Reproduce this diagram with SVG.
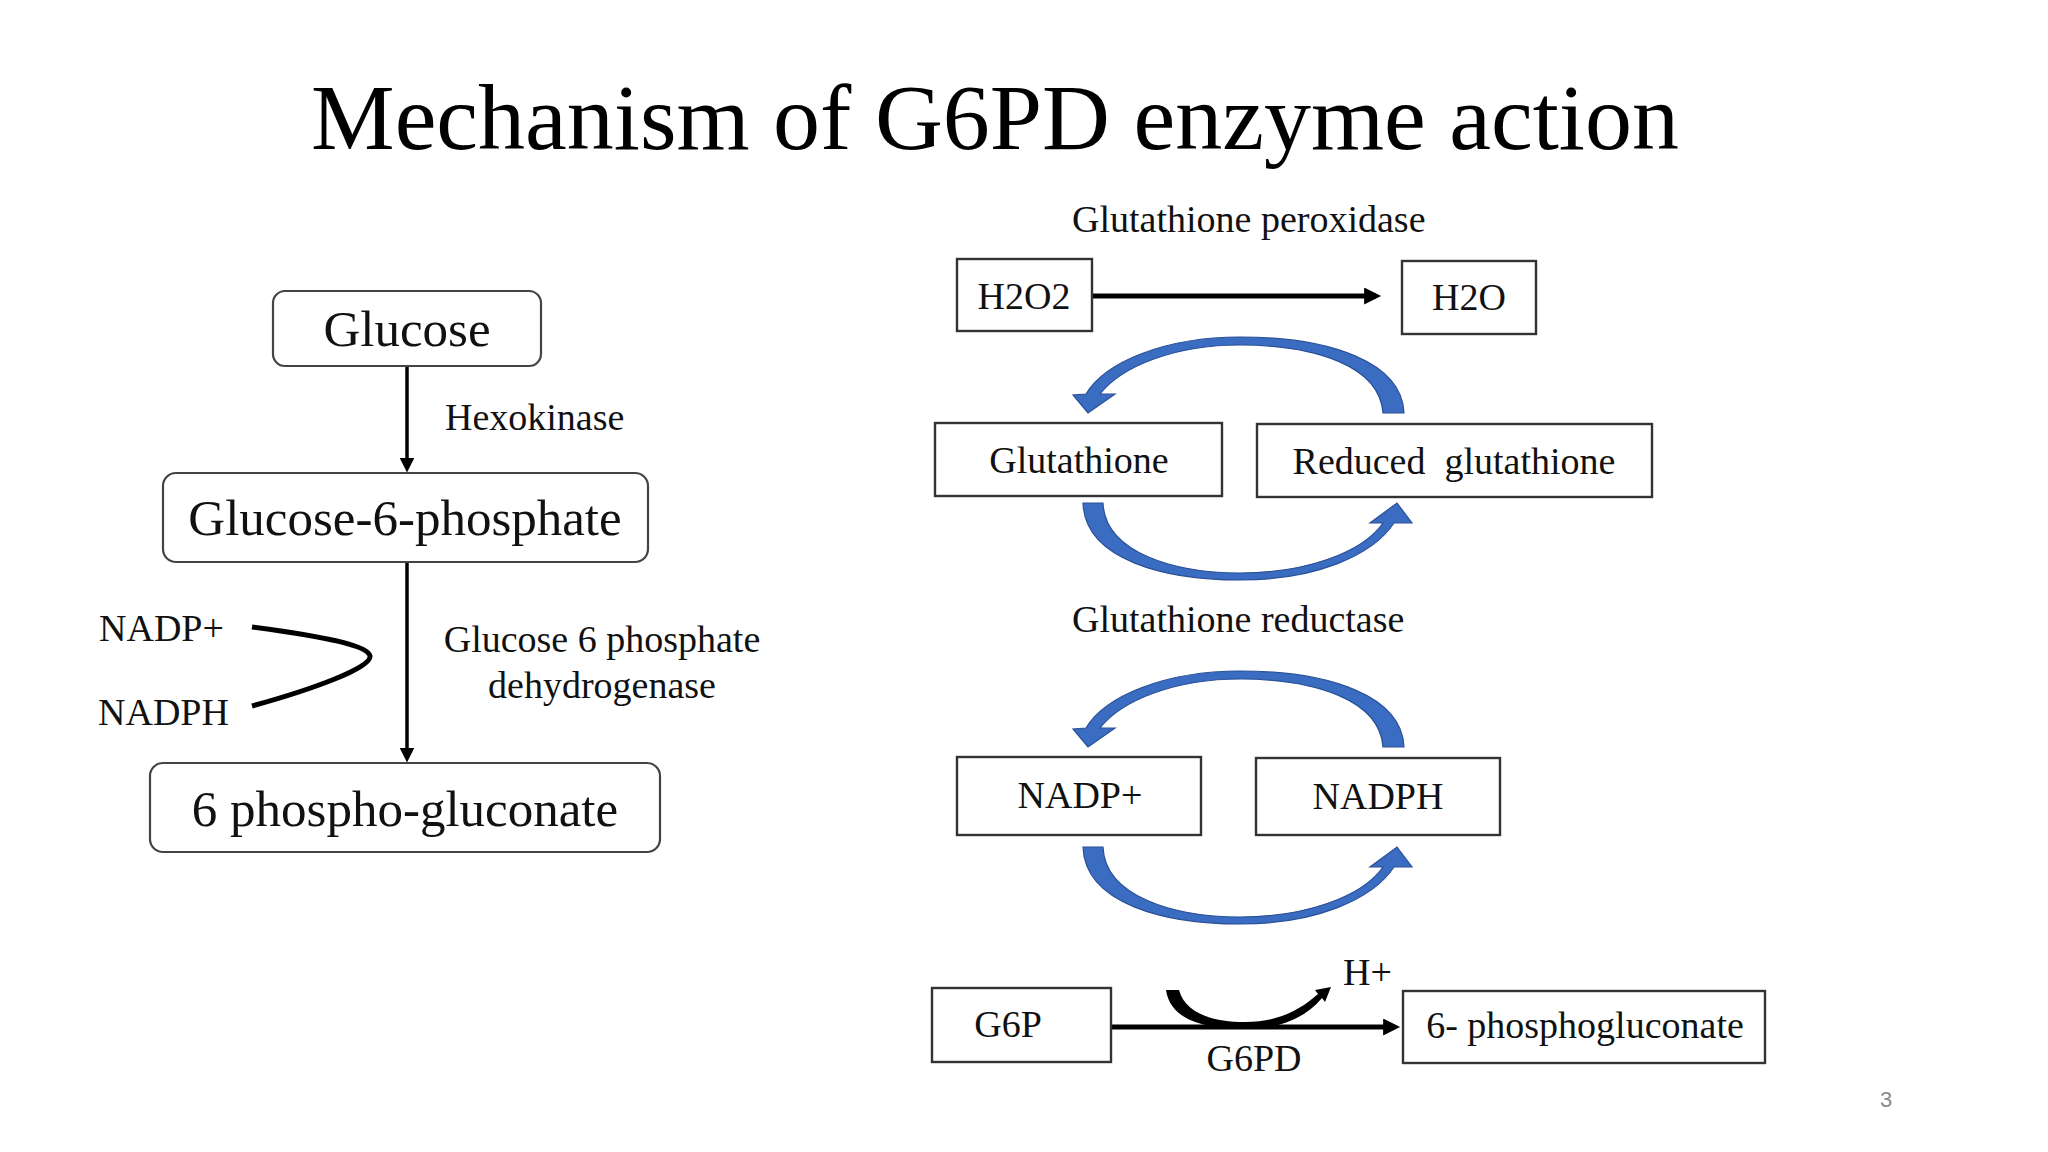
<svg xmlns="http://www.w3.org/2000/svg" width="2048" height="1152" viewBox="0 0 2048 1152">
<style>
text{font-family:"Liberation Serif","Times New Roman",serif;fill:#111}
.title{font-size:94px;fill:#000}
.big{font-size:51px}
.lbl{font-size:38px}
.rbox{fill:#fff;stroke:#444;stroke-width:2.2}
.sbox{fill:#fff;stroke:#333;stroke-width:2.4}
.ln{stroke:#000;fill:none}
.blue{fill:#3a6cc1;stroke:#2a5197;stroke-width:1.2}
.pg{font-family:"Liberation Sans",Arial,sans-serif;font-size:22px;fill:#8a8a8a}
</style>
<defs>
<marker id="ah" viewBox="0 0 10 10" refX="7" refY="5" markerWidth="15" markerHeight="15" markerUnits="userSpaceOnUse" orient="auto"><path d="M0,0 L10,5 L0,10 z" fill="#000"/></marker>
<marker id="ah2" viewBox="0 0 10 10" refX="7" refY="5" markerWidth="18" markerHeight="17" markerUnits="userSpaceOnUse" orient="auto"><path d="M0,0 L10,5 L0,10 z" fill="#000"/></marker>
</defs>
<rect width="2048" height="1152" fill="#fff"/>
<text class="title" x="995" y="149" text-anchor="middle">Mechanism of G6PD enzyme action</text>

<g id="connectors">
<line class="ln" x1="407" y1="366" x2="407" y2="468" stroke-width="3.5" marker-end="url(#ah)"/>
<line class="ln" x1="407" y1="562" x2="407" y2="758" stroke-width="3.5" marker-end="url(#ah)"/>
<path class="ln" d="M252 627 C320 636 368 645 370 656 C372 668 310 690 252 706" stroke-width="5"/>
<line class="ln" x1="1092" y1="296" x2="1376" y2="296" stroke-width="5" marker-end="url(#ah2)"/>
<line class="ln" x1="1111" y1="1027" x2="1395" y2="1027" stroke-width="5" marker-end="url(#ah2)"/>
<path d="M1166 990 L1179 990 C1185 1012 1210 1022 1245 1022 C1278 1022 1300 1010 1318 994 L1315 990 L1331 987 L1325 1002 L1322 998 C1305 1018 1280 1029 1245 1029 C1200 1029 1170 1018 1166 990 Z" fill="#000"/>
<path class="blue" d="M1404 413 C1402 362 1330 337 1240 337 C1165 337 1105 362 1086 394 L1073 395 L1088 413 L1115 394 L1100 394 C1122 366 1175 345 1240 345 C1315 345 1380 366 1383 413 Z"/>
<path class="blue" d="M1083 503 C1085 560 1165 580 1240 580 C1315 580 1372 556 1394 523 L1412 523 L1397 503 L1370 523 L1383 523 C1362 553 1305 573 1240 573 C1175 573 1105 553 1103 503 Z"/>
<path class="blue" transform="translate(0,334)" d="M1404 413 C1402 362 1330 337 1240 337 C1165 337 1105 362 1086 394 L1073 395 L1088 413 L1115 394 L1100 394 C1122 366 1175 345 1240 345 C1315 345 1380 366 1383 413 Z"/>
<path class="blue" transform="translate(0,344)" d="M1083 503 C1085 560 1165 580 1240 580 C1315 580 1372 556 1394 523 L1412 523 L1397 503 L1370 523 L1383 523 C1362 553 1305 573 1240 573 C1175 573 1105 553 1103 503 Z"/>
</g>

<g id="glucose"><rect class="rbox" x="273" y="291" width="268" height="75" rx="12"/><text class="big" x="407" y="346" text-anchor="middle">Glucose</text></g>
<g id="g6p-left"><rect class="rbox" x="163" y="473" width="485" height="89" rx="13"/><text class="big" x="405" y="535" text-anchor="middle">Glucose-6-phosphate</text></g>
<g id="pgluconate-left"><rect class="rbox" x="150" y="763" width="510" height="89" rx="13"/><text class="big" x="405" y="826" text-anchor="middle">6 phospho-gluconate</text></g>
<g id="hexokinase"><text class="lbl" x="445" y="430">Hexokinase</text></g>
<g id="nadp-left"><text class="lbl" x="99" y="641">NADP+</text></g>
<g id="nadph-left"><text class="lbl" x="98" y="725">NADPH</text></g>
<g id="g6pd-label"><text class="lbl" x="602" y="652" text-anchor="middle">Glucose 6 phosphate</text><text class="lbl" x="602" y="698" text-anchor="middle">dehydrogenase</text></g>

<g id="gpx-label"><text class="lbl" x="1072" y="232">Glutathione peroxidase</text></g>
<g id="h2o2"><rect class="sbox" x="957" y="259" width="135" height="72"/><text class="lbl" x="1024" y="309" text-anchor="middle">H2O2</text></g>
<g id="h2o"><rect class="sbox" x="1402" y="261" width="134" height="73"/><text class="lbl" x="1469" y="310" text-anchor="middle">H2O</text></g>
<g id="glutathione"><rect class="sbox" x="935" y="423" width="287" height="73"/><text class="lbl" x="1079" y="473" text-anchor="middle">Glutathione</text></g>
<g id="reduced-glutathione"><rect class="sbox" x="1257" y="424" width="395" height="73"/><text class="lbl" x="1454" y="474" text-anchor="middle" xml:space="preserve">Reduced  glutathione</text></g>
<g id="gr-label"><text class="lbl" x="1072" y="632">Glutathione reductase</text></g>
<g id="nadp-right"><rect class="sbox" x="957" y="757" width="244" height="78"/><text class="lbl" x="1080" y="808" text-anchor="middle">NADP+</text></g>
<g id="nadph-right"><rect class="sbox" x="1256" y="758" width="244" height="77"/><text class="lbl" x="1378" y="809" text-anchor="middle">NADPH</text></g>
<g id="g6p-right"><rect class="sbox" x="932" y="988" width="179" height="74"/><text class="lbl" x="1008" y="1037" text-anchor="middle">G6P</text></g>
<g id="pgluconate-right"><rect class="sbox" x="1403" y="991" width="362" height="72"/><text class="lbl" x="1585" y="1038" text-anchor="middle">6- phosphogluconate</text></g>
<g id="hplus"><text class="lbl" x="1343" y="985">H+</text></g>
<g id="g6pd"><text class="lbl" x="1254" y="1071" text-anchor="middle">G6PD</text></g>
<text class="pg" x="1880" y="1107">3</text>
</svg>
